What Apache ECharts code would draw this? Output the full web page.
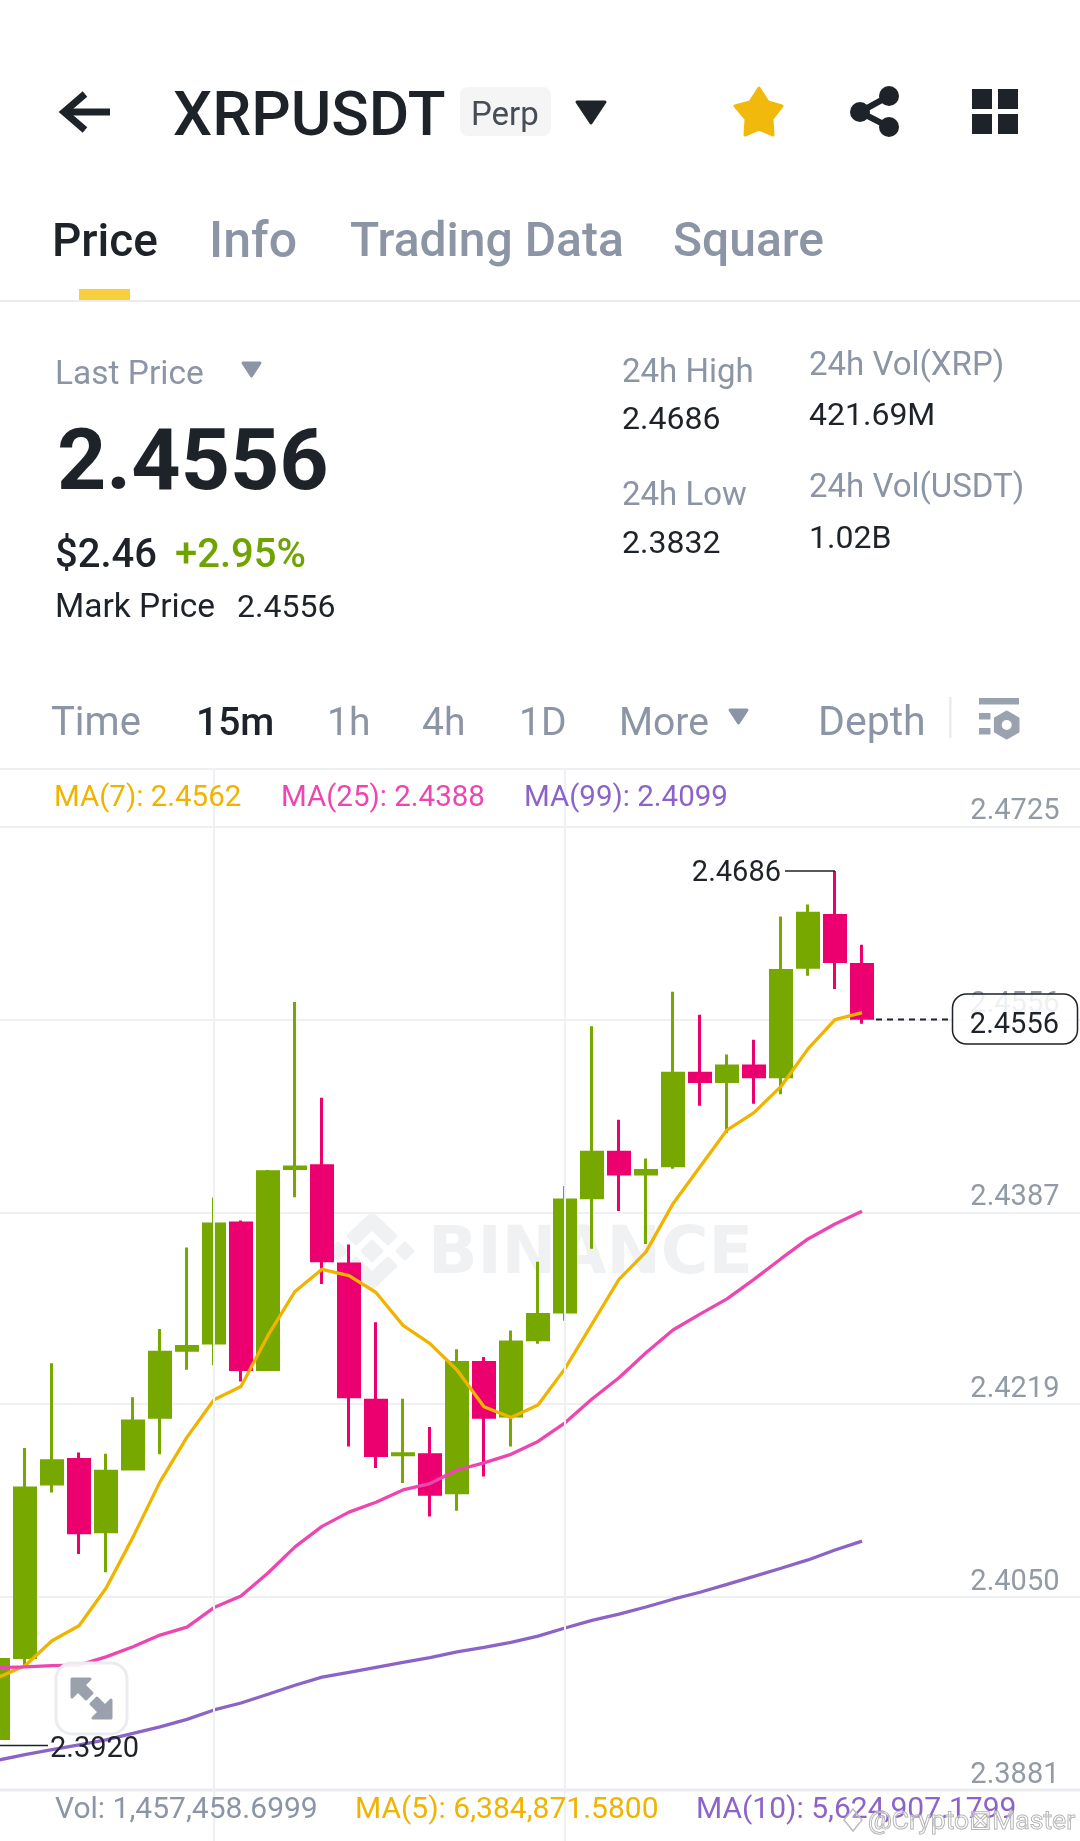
<!DOCTYPE html>
<html><head><meta charset="utf-8">
<style>html,body{margin:0;padding:0;background:#fff}#c{width:1080px;height:1841px}</style>
<script src="https://cdn.jsdelivr.net/npm/echarts@6/dist/echarts.min.js"></script>
</head><body><div id="c"></div>
<script>
const categories = ["00:00","00:15","00:30","00:45","01:00","01:15","01:30","01:45","02:00","02:15","02:30","02:45","03:00","03:15","03:30","03:45","04:00","04:15","04:30","04:45","05:00","05:15","05:30","05:45","06:00","06:15","06:30","06:45","07:00","07:15","07:30","07:45","08:00","08:15","08:30","08:45","09:00","09:15","09:30","09:45","10:00"];
// open, close, low, high
const ohlc = [
[2.39261,2.39954,2.3920,2.39965],
[2.39971,2.41456,2.39905,2.41806],
[2.41491,2.41693,2.41416,2.42548],
[2.41706,2.41063,2.40878,2.41766],
[2.41072,2.41603,2.40718,2.41756],
[2.41622,2.42043,2.41609,2.42251],
[2.42076,2.42645,2.41750,2.42849],
[2.42661,2.42695,2.42492,2.43562],
[2.42725,2.43768,2.42530,2.44000],
[2.43777,2.42493,2.42389,2.43799],
[2.42493,2.44226,2.42480,2.44240],
[2.44254,2.44268,2.44003,2.45712],
[2.44278,2.43447,2.43243,2.44873],
[2.43417,2.42255,2.41819,2.43589],
[2.42225,2.41741,2.41631,2.42908],
[2.41747,2.41756,2.41500,2.42238],
[2.41747,2.41401,2.41206,2.41989],
[2.41413,2.42554,2.41256,2.42670],
[2.42554,2.42074,2.41557,2.42602],
[2.42086,2.42735,2.41819,2.42835],
[2.42753,2.42976,2.42720,2.43437],
[2.42996,2.43978,2.42921,2.44100],
[2.43997,2.44397,2.43552,2.45501],
[2.44397,2.44207,2.43881,2.44682],
[2.44207,2.44237,2.43593,2.44341],
[2.44279,2.45088,2.44253,2.45802],
[2.45088,2.45017,2.44804,2.45602],
[2.45017,2.45151,2.44566,2.45252],
[2.45151,2.45058,2.44822,2.45383],
[2.45058,2.45989,2.44904,2.46462],
[2.46018,2.46490,2.45943,2.46566],
[2.46471,2.46067,2.45827,2.4686],
[2.46042,2.4557,2.45523,2.46215]];
const ma7 = [2.39795,2.39898,2.40117,2.40249,2.40577,2.41025,2.41509,2.41901,2.42229,2.42345,2.42792,2.43177,2.43371,2.43315,2.43168,2.42880,2.42720,2.42489,2.42167,2.42073,2.42182,2.42501,2.42892,2.43283,2.43524,2.43946,2.44269,2.44591,2.44744,2.44973,2.45302,2.45558,2.4562];
const ma25 = [2.39882,2.39888,2.39900,2.39904,2.39976,2.40064,2.40167,2.40236,2.40408,2.40509,2.40711,2.40940,2.41119,2.41244,2.41331,2.41438,2.41494,2.41613,2.41675,2.41750,2.41863,2.42026,2.42235,2.42421,2.42640,2.42839,2.42978,2.43112,2.43283,2.43464,2.43637,2.43768,2.4388];
const ma99 = [2.39071,2.39120,2.39163,2.39204,2.39249,2.39305,2.39363,2.39428,2.39511,2.39572,2.39649,2.39727,2.39798,2.39841,2.39884,2.39927,2.39970,2.40020,2.40060,2.40103,2.40158,2.40229,2.40296,2.40351,2.40413,2.40481,2.40542,2.40611,2.40681,2.40752,2.40825,2.40912,2.4099];
const priceTicks = [2.3881,2.4050,2.4219,2.4387,2.4556,2.4725];
const guideCategories = ["02:00","05:15"];
const lastPrice = 2.4556, highPrice = 2.4686, lowPrice = 2.3920;

const INK='#1E2329', GREY='#8C95A5', GREEN='#76A800', RED='#EC0070', C7='#F0B400', C25='#EE46B0', C99='#8C64C8', LINE='#EEF0F3';
const FF='Roboto, sans-serif';
const chart = echarts.init(document.getElementById('c'), null, {renderer:'canvas'});

function t(x,y,text,size,fill,weight,align){
  return {type:'text',z:20,silent:true,style:{x,y:y+4,text,fill,font:(weight||400)+' '+size+'px '+FF,align:align||'left',verticalAlign:'middle'}};
}
function poly(points,fill,z){return {type:'polygon',z:z||20,silent:true,shape:{points},style:{fill,stroke:fill,lineWidth:3,lineJoin:'round'}};}
function rect(x,y,w,h,fill,r,z,stroke,lw){return {type:'rect',z:z||20,silent:true,shape:{x,y,width:w,height:h,r:r||0},style:{fill,stroke:stroke||null,lineWidth:lw||0}};}
function seg(x1,y1,x2,y2,stroke,lw,z,dash){return {type:'line',z:z||20,silent:true,shape:{x1,y1,x2,y2},style:{stroke,lineWidth:lw,lineDash:dash||null,lineCap:'butt'}};}

const ui = [
  // header
  {type:'polyline',z:20,silent:true,shape:{points:[[85,94],[64,112],[85,130]]},style:{stroke:INK,lineWidth:7,fill:null,lineJoin:'miter'}},
  seg(66,112,110,112,INK,7),
  t(173,115,'XRPUSDT',62,INK,500),
  rect(460,87,91,49,'#F5F5F5',8),
  t(471,113,'Perp',33,'#474D57',400),
  poly([[577,102],[605,102],[591,123]],INK),
  poly([[759,88],[768,102],[782,106],[772,119],[773,135],[759,129],[745,135],[746,119],[735,106],[750,102]],'#F0B90B'),
  seg(889,96,860,112,INK,6),seg(860,112,889,127,INK,6),
  {type:'circle',z:20,silent:true,shape:{cx:889,cy:96,r:10},style:{fill:INK}},
  {type:'circle',z:20,silent:true,shape:{cx:860,cy:112,r:10},style:{fill:INK}},
  {type:'circle',z:20,silent:true,shape:{cx:889,cy:127,r:10},style:{fill:INK}},
  rect(972,89,20,20,INK),rect(998,89,20,20,INK),rect(972,114,20,20,INK),rect(998,114,20,20,INK),
  // tabs
  t(52,240,'Price',46,INK,500),
  t(209,240,'Info',50,GREY,500),
  t(350,240,'Trading Data',48,GREY,500),
  t(673,240,'Square',48,GREY,500),
  rect(79,289,51,11,'#F7CE3E'),
  seg(0,301,1080,301,'#EAECEF',2),
  // price block
  t(55,372,'Last Price',33.5,GREY),
  poly([[243,363],[260,363],[251.5,376]],GREY),
  t(57,463,'2.4556',86,INK,700),
  t(55,553,'$2.46',40,INK,500),
  t(175,553,'+2.95%',40,'#6FA400',500),
  t(55,605,'Mark Price',33.5,INK),
  t(237,605,'2.4556',32,INK),
  t(622,370,'24h High',33,GREY),
  t(622,417,'2.4686',32,INK),
  t(622,493,'24h Low',33,GREY),
  t(622,541,'2.3832',32,INK),
  t(809,363,'24h Vol(XRP)',33,GREY),
  t(809,413,'421.69M',32,INK),
  t(809,485,'24h Vol(USDT)',33,GREY),
  t(809,536,'1.02B',32,INK),
  // interval row
  t(51,721,'Time',40,GREY),
  t(196,721,'15m',39,INK,500),
  t(327,721,'1h',39,GREY),
  t(422,721,'4h',39,GREY),
  t(519,721,'1D',39,GREY),
  t(619,721,'More',39,GREY),
  poly([[730,710],[747,710],[738.5,723]],GREY),
  t(818,721,'Depth',41,GREY),
  seg(950.3,697,950.3,738,'#EAECEF',2.5),
  rect(979,698,40,6.5,'#9AA2B0'),rect(979,713,11.5,6.5,'#9AA2B0'),rect(979,728,11.5,6.5,'#9AA2B0'),
  poly([[1006.7,712],[1018,718.5],[1018,731.5],[1006.7,738],[995.4,731.5],[995.4,718.5]],'#9AA2B0'),
  {type:'circle',z:21,silent:true,shape:{cx:1006.7,cy:725,r:5},style:{fill:'#fff'}},
  seg(0,769,1080,769,'#EEF0F3',2,5),
  // MA legend
  t(54,795,'MA(7): 2.4562',29.5,C7),
  t(281,795,'MA(25): 2.4388',29.5,C25),
  t(524,795,'MA(99): 2.4099',29.5,C99),
  // watermark
  poly([[372,1213],[396,1236],[388,1244],[372,1229],[356,1244],[348,1236]],'#F0F1F3',1),
  poly([[372,1289],[396,1266],[388,1258],[372,1273],[356,1258],[348,1266]],'#F0F1F3',1),
  poly([[372,1241],[382,1251],[372,1261],[362,1251]],'#F0F1F3',1),
  poly([[338,1243],[346,1251],[338,1259],[330,1251]],'#F0F1F3',1),
  poly([[405,1243],[413,1251],[405,1259],[397,1251]],'#F0F1F3',1),
  {type:'text',z:1,silent:true,style:{x:428,y:1256,text:'BINANCE',fill:'#F0F1F3',font:'700 65px "DejaVu Sans"',align:'left',verticalAlign:'middle'}},
  // expand button
  rect(56,1663,71,71,'rgba(255,255,255,0.9)',16,6,'#EAECEF',3),
  poly([[72,1679],[90,1679],[84,1685],[92,1693],[86,1699],[78,1691],[72,1697]],'#9AA0AC',7),
  poly([[111,1718],[93,1718],[99,1712],[91,1704],[97,1698],[105,1706],[111,1700]],'#9AA0AC',7),
  // volume row
  seg(0,1790,1080,1790,'#EAECEF',3,5),
  t(55,1806,'Vol: 1,457,458.6999',30,GREY),
  t(355,1806,'MA(5): 6,384,871.5800',30,C7),
  t(696,1806,'MA(10): 5,624,907.1799',30,C99),
  {type:'polygon',z:21,silent:true,shape:{points:[[853,1809],[862,1820],[853,1831],[844,1820]]},style:{fill:'rgba(255,255,255,0.3)',stroke:'#BDBDBD',lineWidth:1.5}},
  {type:'text',z:21,silent:true,style:{x:868,y:1822,text:'@Crypto\u22A0Master',fill:'rgba(255,255,255,0.35)',stroke:'#A8A8A8',lineWidth:1,font:'400 26.5px '+FF,align:'left',verticalAlign:'middle'}}
];

chart.setOption({
  animation:false,
  backgroundColor:'#ffffff',
  grid:{left:-15.5,top:770,width:1107,height:1071,containLabel:false,outerBoundsMode:'none'},
  xAxis:{type:'category',data:categories,boundaryGap:true,axisLine:{show:false},axisTick:{show:false},axisLabel:{show:false},splitLine:{show:false}},
  yAxis:{type:'value',position:'right',min:2.38363,max:2.47745,scale:true,
    axisLine:{show:false},
    axisTick:{show:false,customValues:priceTicks},
    axisLabel:{show:true,inside:true,customValues:priceTicks,margin:32,color:'#929AA5',fontFamily:'Roboto',fontSize:29,verticalAlign:'bottom',lineHeight:29,formatter:v=>Number(v).toFixed(4)},
    splitLine:{show:true,customValues:priceTicks,lineStyle:{color:LINE,width:2}}},
  graphic:ui,
  series:[
    {name:'guides',type:'line',data:[],z:0,silent:true,markLine:{silent:true,symbol:'none',label:{show:false},animation:false,lineStyle:{color:LINE,width:2,type:'solid'},data:guideCategories.map(c=>({xAxis:c}))}},
    {name:'XRPUSDT',type:'candlestick',data:ohlc,z:2,barWidth:21,silent:true,itemStyle:{color:GREEN,color0:RED,borderColor:GREEN,borderColor0:RED,borderWidth:3}},
    {name:'MA(7)',type:'line',data:ma7,z:3,symbol:'none',silent:true,lineStyle:{color:C7,width:3.3}},
    {name:'MA(25)',type:'line',data:ma25,z:3,symbol:'none',silent:true,lineStyle:{color:C25,width:3.3}},
    {name:'MA(99)',type:'line',data:ma99,z:3,symbol:'none',silent:true,lineStyle:{color:C99,width:3.3}}
  ]
});

// callouts anchored to the data through the chart's own scales
const hi = chart.convertToPixel({gridIndex:0},[31,highPrice]);
const lo = chart.convertToPixel({gridIndex:0},[0,lowPrice]);
const lastPt = chart.convertToPixel({gridIndex:0},[32,lastPrice]);
chart.setOption({graphic:ui.concat([
  seg(hi[0]-50,hi[1],hi[0],hi[1],INK,1.5,8),
  t(hi[0]-54,hi[1]-1,highPrice.toFixed(4),29,INK,400,'right'),
  seg(0,lo[1],48,lo[1],INK,1.5,8),
  t(50,lo[1],lowPrice.toFixed(4),29,INK),
  seg(lastPt[0]+14,lastPt[1],951,lastPt[1],INK,2,8,[6,5]),
  rect(952.5,994,125,50,'rgba(255,255,255,0.85)',14,9,INK,1.5),
  t(1059,1022,lastPrice.toFixed(4),29,INK,400,'right')
])});
</script></body></html>
